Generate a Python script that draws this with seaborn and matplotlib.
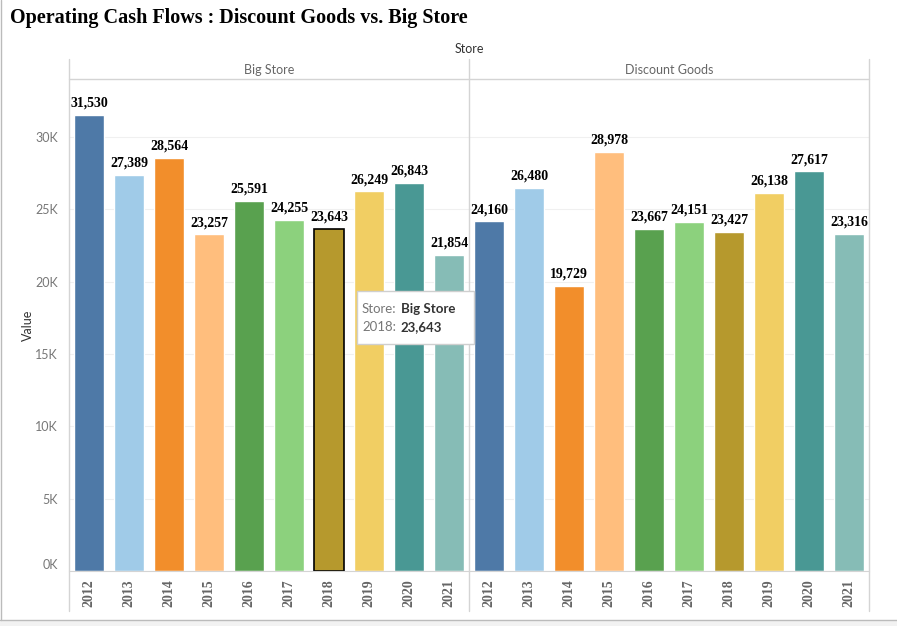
import pandas as pd
import seaborn as sns
import matplotlib.pyplot as plt
from matplotlib.lines import Line2D
from matplotlib.patches import Rectangle

years = ['2012', '2013', '2014', '2015', '2016', '2017', '2018', '2019', '2020', '2021']
stores = ['Big Store', 'Discount Goods']
big_store = [31530, 27389, 28564, 23257, 25591, 24255, 23643, 26249, 26843, 21854]
discount_goods = [24160, 26480, 19729, 28978, 23667, 24151, 23427, 26138, 27617, 23316]
colors = ['#4E79A7', '#A0CBE8', '#F28E2B', '#FFBE7D', '#59A14F',
          '#8CD17D', '#B6992D', '#F1CE63', '#499894', '#86BCB6']

df = pd.DataFrame({
    'Store': ['Big Store'] * 10 + ['Discount Goods'] * 10,
    'Year': years * 2,
    'Value': big_store + discount_goods,
})

sns.set_style('white')
W, H = 897, 626
fig = plt.figure(figsize=(W / 100, H / 100), dpi=100)

def fx(px):
    return px / W

def fy(py):
    return 1 - py / H

grid_c = '#d4d4d4'
left_px, mid_px, right_px = 69, 469, 869
top_px, bottom_px = 79, 571

palette = dict(zip(years, colors))
for i, store in enumerate(stores):
    x0 = [left_px, mid_px][i]
    ax = fig.add_axes([fx(x0), fy(bottom_px), fx(400), (bottom_px - top_px) / H])
    sub = df[df['Store'] == store]
    sns.barplot(data=sub, x='Year', y='Value', hue='Year', palette=palette,
                order=years, hue_order=years, width=0.75, legend=False,
                saturation=1, ax=ax)
    ax.set_ylim(0, 34000)
    ax.set_xlim(-0.5, 9.5)
    for sp in ax.spines.values():
        sp.set_visible(False)
    ax.spines['bottom'].set_visible(True)
    ax.spines['bottom'].set_color(grid_c)
    ax.yaxis.grid(True, color='#f0f0f0', linewidth=0.8)
    ax.set_axisbelow(True)
    ax.set_yticks(range(0, 34000, 5000))
    ax.set_xlabel('')
    ax.set_ylabel('')
    ax.tick_params(axis='x', length=0, pad=6)
    ax.set_xticks([k + 0.5 for k in range(9)], minor=True)
    ax.tick_params(axis='x', which='minor', length=3, color='#e6e6e6')
    for lab in ax.get_xticklabels():
        lab.set_rotation(90)
        lab.set_family('Liberation Serif')
        lab.set_fontweight('bold')
        lab.set_fontsize(10)
        lab.set_color('#666666')
    if i == 0:
        ax.set_yticklabels([f'{v // 1000}K' for v in range(0, 34000, 5000)])
        ax.tick_params(axis='y', length=0, pad=8, labelsize=9, labelcolor='#777777')
        for lab in ax.get_yticklabels():
            lab.set_family('Lato')
        ax.get_yticklabels()[0].set_va('bottom')
    else:
        ax.tick_params(axis='y', length=0, labelleft=False)
    vals = big_store if i == 0 else discount_goods
    for j, v in enumerate(vals):
        ax.text(j, v + 350, f'{v:,}', ha='center', va='bottom',
                family='Liberation Serif', fontweight='bold', fontsize=10, color='black')
    if i == 0:
        bar = ax.patches[6]
        bar.set_edgecolor('black')
        bar.set_linewidth(1.2)

# panel frame lines
for xp in (left_px, mid_px, right_px):
    fig.add_artist(Line2D([fx(xp), fx(xp)], [fy(59), fy(611)], color=grid_c, lw=1))
fig.add_artist(Line2D([fx(left_px), fx(right_px)], [fy(top_px), fy(top_px)], color=grid_c, lw=1))

# headers
fig.text(fx(469), fy(49), 'Store', ha='center', va='center', fontsize=9,
         family='Lato', color='#333333')
fig.text(fx(269), fy(70), 'Big Store', ha='center', va='center', fontsize=9,
         family='Lato', color='#666666')
fig.text(fx(669), fy(70), 'Discount Goods', ha='center', va='center', fontsize=9,
         family='Lato', color='#666666')
fig.text(fx(28), fy(325), 'Value', ha='center', va='center', rotation=90,
         fontsize=9, family='Lato', color='#333333')

# title
fig.text(fx(10), fy(18), 'Operating Cash Flows : Discount Goods vs. Big Store',
         ha='left', va='center', family='Liberation Serif', fontweight='bold',
         fontsize=14.5, color='black')

# tooltip
fig.add_artist(Rectangle((fx(357), fy(344)), fx(474 - 357), (344 - 291) / H,
                         facecolor='white', edgecolor='#cfcfcf', lw=1,
                         transform=fig.transFigure, zorder=10))
renderer = fig.canvas.get_renderer()
for row, (k, v) in enumerate([('Store:', 'Big Store'), ('2018:', '23,643')]):
    yy = fy(309 + row * 18)
    t = fig.text(fx(362), yy, k, ha='left', va='center', fontsize=9.5,
                 family='Lato', color='#777777', zorder=11)
    x_end = t.get_window_extent(renderer).x1
    fig.text(fx(x_end + 4), yy, v, ha='left', va='center',
             fontsize=9.5, family='Lato', color='#333333', fontweight='bold', zorder=11)

# outer frame
fig.add_artist(Line2D([fx(1), fx(1)], [fy(0), fy(620)], color='#bbbbbb', lw=1))
fig.add_artist(Rectangle((0, 0), 1, 6 / H, facecolor='#f2f2f2', edgecolor='none',
                         transform=fig.transFigure))
fig.add_artist(Line2D([0, 1], [fy(620), fy(620)], color='#bbbbbb', lw=1))

fig.savefig('out.png', dpi=100)
